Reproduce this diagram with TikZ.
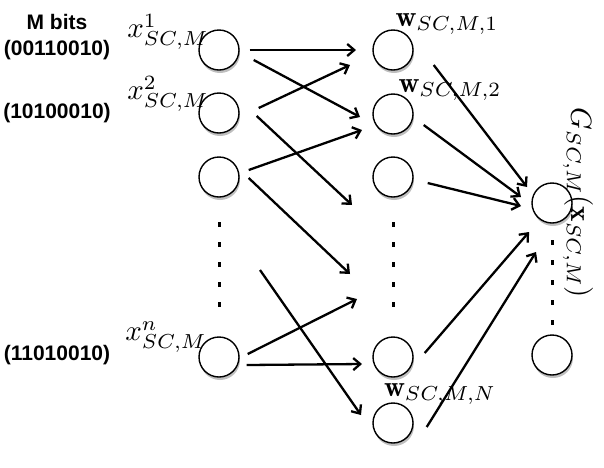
\documentclass[tikz,border=0pt]{standalone}
\usepackage{fontspec}
\newfontfamily\lsans{Liberation Sans}
\usetikzlibrary{shadows,arrows.meta}
\begin{document}
\begin{tikzpicture}[x=1pt,y=-1pt,
  nd/.style={circle,draw,line width=1.4pt,minimum size=40pt,inner sep=0pt,fill=white,drop shadow={shadow xshift=1pt,shadow yshift=-3pt,opacity=0.5}},
  ar/.style={line width=2.3pt,-{Straight Barb[length=7pt,width=12pt]}},
  dt/.style={line width=3pt,dash pattern=on 5pt off 15pt},
  bits/.style={font=\lsans\bfseries\fontsize{21}{23}\selectfont},
  ml/.style={scale=2.9}]
\useasboundingbox (0,0) rectangle (604,467);
\node[nd] (l1) at (219,50) {};
\node[nd] (l2) at (219,113) {};
\node[nd] (l3) at (219,177) {};
\node[nd] (ln) at (219,357) {};
\node[nd] (m1) at (393,50) {};
\node[nd] (m2) at (393,114) {};
\node[nd] (m3) at (393,177) {};
\node[nd] (mn) at (393,357) {};
\node[nd] (mN) at (393,423) {};
\node[nd] (r1) at (552,203) {};
\node[nd] (r2) at (552,355) {};
\coordinate (d1) at (219,222); \coordinate (d2) at (219,312);
\coordinate (e1) at (393,222); \coordinate (e2) at (393,312);
\coordinate (f1) at (552,240); \coordinate (f2) at (552,330);
\draw[dt] (d1)--(d2); \draw[dt] (e1)--(e2); \draw[dt] (f1)--(f2);
\node[bits] (t0) at (57,22) {M bits};
\node[bits] (t1) at (57,50) {(00110010)};
\node[bits] (t2) at (57,113) {(10100010)};
\node[bits] (t3) at (57,355) {(11010010)};
\node[ml] (x1) at (168,32) {$x^1_{SC,M}$};
\node[ml] (x2) at (168,94) {$x^2_{SC,M}$};
\node[ml] (xn) at (166,337) {$x^n_{SC,M}$};
\node[ml] (w1) at (447,24) {$\mathbf{w}_{SC,M,1}$};
\node[ml] (w2) at (450,90) {$\mathbf{w}_{SC,M,2}$};
\node[ml] (wN) at (440,394) {$\mathbf{w}_{SC,M,N}$};
\node[ml,rotate=-90] (g) at (578,203) {$G_{SC,M}(\mathbf{x}_{SC,M})$};
% left to middle
\coordinate (a1) at (356,50); \coordinate (a2) at (360,117);
\coordinate (a3) at (350,65); \coordinate (a4) at (352,205);
\coordinate (a5) at (362,130); \coordinate (a6) at (350,274);
\coordinate (a7) at (357,299); \coordinate (a8) at (362,364);
\coordinate (s9) at (260,270); \coordinate (a9) at (361,415);
\draw[ar] ([xshift=10pt]l1.east) -- (a1);
\draw[ar] ([xshift=14pt,yshift=-10pt]l1.east) -- (a2);
\draw[ar] ([xshift=19pt,yshift=5pt]l2.east) -- (a3);
\draw[ar] ([xshift=17pt,yshift=-3pt]l2.east) -- (a4);
\draw[ar] ([xshift=9pt,yshift=7pt]l3.east) -- (a5);
\draw[ar] ([xshift=9pt,yshift=-1pt]l3.east) -- (a6);
\draw[ar] ([xshift=8pt,yshift=3pt]ln.east) -- (a7);
\draw[ar] ([xshift=7pt,yshift=-8pt]ln.east) -- (a8);
\draw[ar] (s9) -- (a9);
% middle to right
\coordinate (b1) at (527,187); \coordinate (b2) at (521,197);
\coordinate (b3) at (521,206); \coordinate (b4) at (529,232);
\coordinate (b5) at (536,252);
\draw[ar] ([xshift=20pt,yshift=-15pt]m1.east) -- (b1);
\draw[ar] ([xshift=10pt,yshift=-11pt]m2.east) -- (b2);
\draw[ar] ([xshift=14pt,yshift=-6pt]m3.east) -- (b3);
\draw[ar] ([xshift=11pt,yshift=4pt]mn.east) -- (b4);
\draw[ar] ([xshift=13pt,yshift=-4pt]mN.east) -- (b5);
\end{tikzpicture}
\end{document}
